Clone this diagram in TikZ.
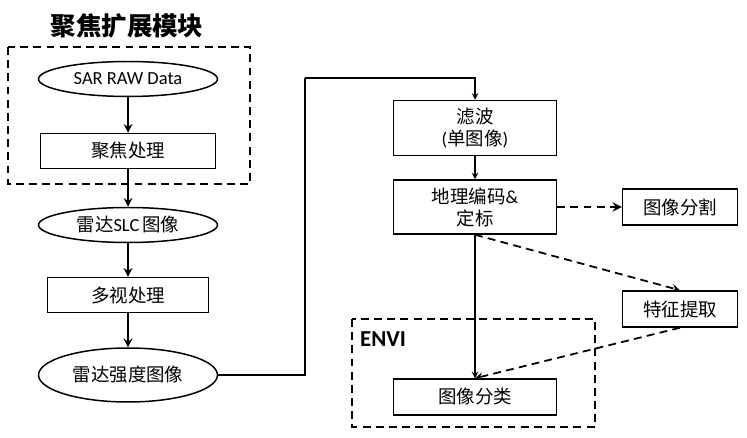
\documentclass[tikz,border=0pt]{standalone}
\usepackage{fontspec}
\setmainfont{Carlito}
\newfontfamily\cjk{Noto Sans CJK SC}
\usetikzlibrary{arrows,shapes.geometric}

\begin{document}
\begin{tikzpicture}[x=0.02cm,y=-0.02cm,>=stealth,
    txt/.style={font=\fontsize{10.5}{12.5}\selectfont},
    procbox/.style={draw,line width=0.85pt,rectangle,inner sep=0pt,
      minimum height=0.7cm,align=center,txt},
    dataell/.style={draw,line width=0.85pt,ellipse,inner sep=0pt,
      minimum width=3.58cm,minimum height=0.7cm,txt},
    flow/.style={->,line width=1.2pt},
    thinflow/.style={->,line width=0.7pt},
    dashflow/.style={->,line width=1.0pt,dash pattern=on 4.5pt off 3pt},
    module/.style={line width=0.85pt,dash pattern=on 4.5pt off 3pt}]
    \useasboundingbox (0,0) rectangle (747,438);
    % module frames
    \draw[module] (8,47) rectangle (250,184);
    \draw[module] (352,319) rectangle (595,427);
    \node (title) at (127,26) {\cjk\bfseries\fontsize{14.5}{16}\selectfont 聚焦扩展模块};
    \node[font=\bfseries\fontsize{13}{15}\selectfont] (envi) at (383,339) {ENVI};
    % left column
    \node[dataell] (raw) at (128,79) {SAR RAW Data};
    \node[procbox,minimum width=3.5cm] (focus) at (128,151) {\cjk 聚焦处理};
    \node[dataell] (slc) at (128,225) {\cjk 雷达\rmfamily SLC\,\cjk 图像};
    \node[procbox,minimum width=3.22cm] (look) at (128,295) {\cjk 多视处理};
    \node[dataell,minimum height=1.08cm] (amp) at (128,375) {\cjk 雷达强度图像};
    % right column
    \node[procbox,minimum width=3.26cm,minimum height=1.1cm] (filt) at (475,128)
      {\cjk 滤波\\(\cjk 单图像\rmfamily )};
    \node[procbox,minimum width=3.26cm,minimum height=1.08cm] (geo) at (475,207)
      {\cjk 地理编码\rmfamily \&\\\cjk 定标};
    \node[procbox,minimum width=2.3cm,minimum height=0.72cm] (seg) at (680,207) {\cjk 图像分割};
    \node[procbox,minimum width=2.3cm,minimum height=0.72cm] (feat) at (680,309) {\cjk 特征提取};
    \node[procbox,minimum width=3.26cm,minimum height=0.72cm] (cls) at (475,397) {\cjk 图像分类};
    \coordinate (bend) at (305,78);
    % connectors
    \draw[flow] (raw) -- (focus);
    \draw[flow] (focus) -- (slc);
    \draw[flow] (slc) -- (look);
    \draw[flow] (look) -- (amp);
    \draw[line width=1.0pt] (amp.east) -| (bend);
    \draw[thinflow] (bend) -| (filt.north);
    \draw[thinflow] (filt) -- (geo);
    \draw[thinflow] (geo) -- (cls);
    \draw[dashflow,line width=1.3pt] (geo) -- (seg);
    \draw[dashflow] (geo.south) -- (feat.north);
    \draw[dashflow] (feat.south) -- (cls.north);
  \end{tikzpicture}
\end{document}
